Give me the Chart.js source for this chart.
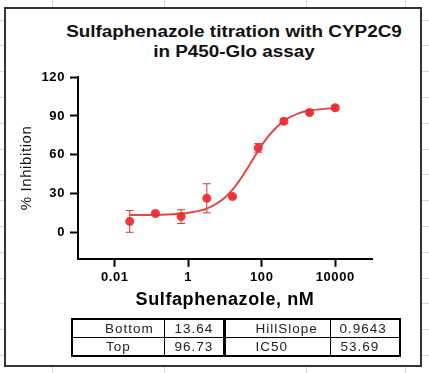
<!DOCTYPE html>
<html>
<head>
<meta charset="utf-8">
<script src="https://cdn.jsdelivr.net/npm/chart.js@4.4.1/dist/chart.umd.min.js"></script>
<style>
  html, body { margin: 0; padding: 0; background: #fff; }
  body { width: 429px; height: 373px; position: relative; overflow: hidden; font-family: "Liberation Sans", Arial, sans-serif; }
  .gl { position: absolute; background: #d6d6d6; }
  #box { position: absolute; left: 4px; top: 7px; width: 414px; height: 356px; border: 2px solid #333; background: #fff; }
  #title { position: absolute; left: 40px; width: 388px; top: 22px; text-align: center; font-weight: bold; font-size: 16px; line-height: 20px; color: #111; transform: scaleX(1.18); }
  #chart { position: absolute; left: 0; top: 0; }
  #params { position: absolute; left: 71px; top: 318px; border-collapse: collapse; table-layout: fixed; border: 2px solid #000; font-size: 13.5px; letter-spacing: 1px; color: #222; }
  #params td { border: 1px solid #000; height: 17px; padding: 0; line-height: 17px; white-space: nowrap; overflow: hidden; }
  #params td.sep { border-right: 3px solid #000; }
</style>
</head>
<body>
<div id="box"></div>
<div id="title">Sulfaphenazole titration with CYP2C9<br>in P450-Glo assay</div>
<canvas id="chart" width="429" height="373"></canvas>
<table id="params">
  <colgroup><col style="width:92px"><col style="width:60px"><col style="width:106px"><col style="width:70px"></colgroup>
  <tr><td style="padding-left:32px">Bottom</td><td class="sep" style="padding-left:10px">13.64</td><td style="padding-left:30px">HillSlope</td><td style="padding-left:9px">0.9643</td></tr>
  <tr><td style="padding-left:33px">Top</td><td class="sep" style="padding-left:10px">96.73</td><td style="padding-left:30px">IC50</td><td style="padding-left:10px">53.69</td></tr>
</table>
<script>
// valores
const concentrations = [0.0256, 0.128, 0.64, 3.2, 16, 80, 400, 2000, 10000];
const inhibition = [8.8, 14.9, 12.5, 26.6, 27.9, 65.4, 85.9, 92.7, 96.3];
const inhibitionErr = [8.4, 1.0, 5.3, 11.2, 1.0, 3.3, 1.8, 1.0, 1.5];

// curva ajustada, leida punto a punto
const fitX = [0.0256, 0.128, 0.64, 3.2, 10, 16, 30, 50, 80, 150, 400, 1000, 2000, 10000];
const fitY = [13.7, 13.9, 14.8, 18.6, 27.2, 33.2, 43.8, 53.8, 63.1, 74.2, 86.2, 92.0, 94.2, 96.2];

const xTicks = [0.01, 1, 100, 10000];
const yTicks = [0, 30, 60, 90, 120];

// lineas de la hoja de calculo de fondo
const gridCols = [52, 164, 306, 405];
for (let k = 0; k < 14; k++) {
    const d = document.createElement('div');
    d.className = 'gl';
    d.style.cssText = 'left:0;width:429px;height:1px;top:' + Math.round(19.5 + 25.8 * k) + 'px';
    document.body.insertBefore(d, document.body.firstChild);
}
gridCols.forEach(x => {
    const d = document.createElement('div');
    d.className = 'gl';
    d.style.cssText = 'top:0;height:373px;width:1px;left:' + x + 'px';
    document.body.insertBefore(d, document.body.firstChild);
});

const red = 'rgba(236, 42, 48, 0.92)';
const family = '"Liberation Sans", Arial, sans-serif';
const tickFont = { family, size: 13, weight: 'bold' };

// el texto del original sale algo ensanchado
const wideText = {
    id: 'wideText',
    beforeUpdate(chart) { chart.ctx.letterSpacing = '0.6px'; },
    beforeDraw(chart) { chart.ctx.letterSpacing = '0.6px'; }
};

// barras de error dibujadas con las escalas del grafico
const errorBars = {
    id: 'errorBars',
    beforeDatasetsDraw(chart) {
        const { ctx, scales: { x, y } } = chart;
        ctx.save();
        ctx.strokeStyle = '#d23a3a';
        ctx.lineWidth = 1;
        concentrations.forEach((c, i) => {
            const px = x.getPixelForValue(c);
            const top = y.getPixelForValue(inhibition[i] + inhibitionErr[i]);
            const bot = y.getPixelForValue(inhibition[i] - inhibitionErr[i]);
            ctx.beginPath();
            ctx.moveTo(px, top); ctx.lineTo(px, bot);
            ctx.moveTo(px - 4, top); ctx.lineTo(px + 4, top);
            ctx.moveTo(px - 4, bot); ctx.lineTo(px + 4, bot);
            ctx.stroke();
        });
        ctx.restore();
    }
};

new Chart(document.getElementById('chart'), {
    type: 'scatter',
    data: {
        datasets: [{
            data: concentrations.map((c, i) => ({ x: c, y: inhibition[i] })),
            backgroundColor: red,
            borderColor: red,
            pointRadius: 4.5,
            borderWidth: 0,
            showLine: false
        }, {
            data: fitX.map((c, i) => ({ x: c, y: fitY[i] })),
            showLine: true,
            borderColor: '#e04848',
            borderWidth: 2,
            pointRadius: 0,
            cubicInterpolationMode: 'monotone'
        }]
    },
    options: {
        responsive: false,
        animation: false,
        layout: { padding: { left: 14, top: 77, right: 57, bottom: 58 } },
        plugins: { legend: { display: false }, tooltip: { enabled: false } },
        scales: {
            x: {
                type: 'logarithmic',
                min: 0.001,
                max: 100000,
                afterBuildTicks: s => { s.ticks = xTicks.map(v => ({ value: v })); },
                ticks: { font: tickFont, color: '#000', padding: 3, maxRotation: 0, autoSkip: false, callback: v => String(v) },
                grid: { drawOnChartArea: false, tickLength: 8, tickWidth: 2, tickColor: '#000' },
                border: { color: '#000', width: 2 },
                title: {
                    display: true, text: 'Sulfaphenazole, nM', color: '#000',
                    font: { family, size: 18, weight: 'bold' },
                    padding: { top: 1, bottom: 4 }
                }
            },
            y: {
                min: -20,
                max: 120,
                afterBuildTicks: s => { s.ticks = yTicks.map(v => ({ value: v })); },
                afterFit: s => { s.width = 64; },
                ticks: { font: tickFont, color: '#000', padding: 5 },
                grid: { drawOnChartArea: false, tickLength: 8, tickWidth: 2, tickColor: '#000' },
                border: { color: '#000', width: 2 },
                title: {
                    display: true, text: '% Inhibition', color: '#111',
                    font: { family, size: 15 },
                    padding: { top: 4, bottom: 4 }
                }
            }
        }
    },
    plugins: [wideText, errorBars]
});
</script>
</body>
</html>
